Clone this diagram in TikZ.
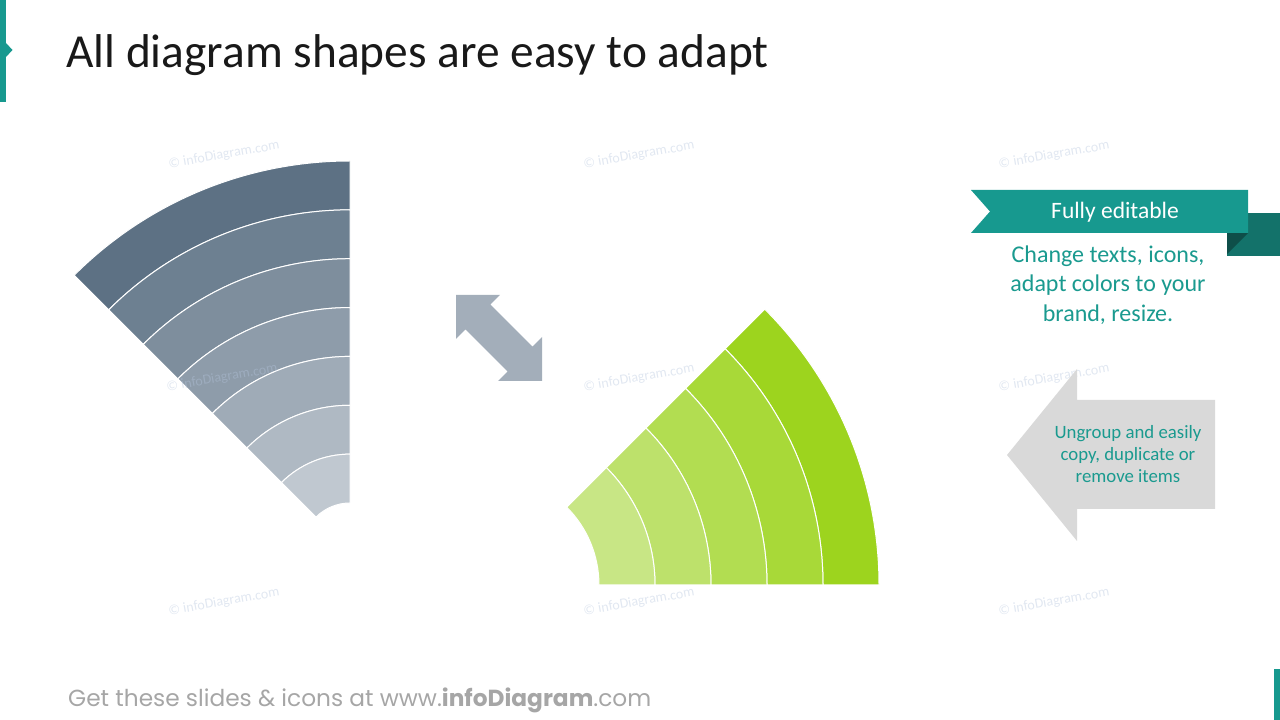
\documentclass[tikz,border=0pt]{standalone}
\usepackage{fontspec}
\setmainfont{Carlito}
\newfontfamily\footfont{Poppins}
\usetikzlibrary{calc}
\definecolor{tealA}{RGB}{23,153,143}
\definecolor{tealD}{RGB}{19,114,106}
\definecolor{tealX}{RGB}{14,78,73}
\definecolor{tealT}{RGB}{26,154,143}
\definecolor{fanA}{RGB}{93,113,132}
\definecolor{fanB}{RGB}{192,200,208}
\definecolor{grnA}{RGB}{157,212,30}
\definecolor{grnB}{RGB}{200,230,133}
\definecolor{dblarrow}{RGB}{163,174,186}
\definecolor{arrowgray}{RGB}{217,217,217}
\definecolor{footgray}{RGB}{166,166,166}
\definecolor{wmark}{RGB}{180,196,220}
\tikzset{
  band/.style={draw=white, line width=1pt},
  wm/.style={text=wmark, text opacity=0.4, rotate=10, font=\fontsize{14}{16}\selectfont, inner sep=0},
}
\begin{document}
\begin{tikzpicture}[x=1pt,y=1pt]
\useasboundingbox (0,0) rectangle (1280,720);
% side bars
\fill[tealA] (0,720) rectangle (6,618);
\fill[tealA] (6,677) -- (12.5,670) -- (6,663) -- cycle;
\fill[tealA] (1274,0) rectangle (1280,51);
% title
\node[anchor=base west, inner sep=0, font=\fontsize{47.4}{57}\selectfont, text=black!90] (title) at (66,652) {All diagram shapes are easy to adapt};
% left fan
\coordinate (lc) at (350,169);
\foreach \i in {0,...,6} {
  \pgfmathsetmacro\ro{390-\i*48.857}
  \pgfmathsetmacro\ri{390-(\i+1)*48.857}
  \pgfmathsetmacro\p{\i*100/6}
  \filldraw[band, fill=fanB!\p!fanA] (lc) ++(90:\ro) arc[start angle=90, end angle=135, radius=\ro]
     -- ($(lc)+(135:\ri)$) arc[start angle=135, end angle=90, radius=\ri] -- cycle;
}
% green fan
\coordinate (gc) at (489,135);
\foreach \i in {0,...,4} {
  \pgfmathsetmacro\ro{390-\i*56}
  \pgfmathsetmacro\ri{390-(\i+1)*56}
  \pgfmathsetmacro\p{\i*100/4}
  \filldraw[band, fill=grnB!\p!grnA] (gc) ++(0:\ro) arc[start angle=0, end angle=45, radius=\ro]
     -- ($(gc)+(45:\ri)$) arc[start angle=45, end angle=0, radius=\ri] -- cycle;
}
% double arrow
\fill[dblarrow] (456,425) -- (500,425) -- (490.4,415.4) -- (532.4,373.4) -- (542,383) -- (542,339)
  -- (498,339) -- (507.6,348.6) -- (465.6,390.6) -- (456,381) -- cycle;
% watermarks
\foreach \x/\y [count=\k] in {224/565, 639/565, 1054/565, 222/342, 639/342, 1054/342, 224/118, 639/118, 1054/118} {
  \node[wm] (wm\k) at (\x,\y) {© infoDiagram.com};
}
% ribbon
\fill[tealD] (1227,507) rectangle (1280,464);
\fill[tealX] (1227,487) -- (1248,487) -- (1227,466) -- cycle;
\fill[tealA] (971,530) -- (1248,530) -- (1248,487) -- (971,487) -- (990,508.5) -- cycle;
\node[text=white, font=\fontsize{23.5}{27}\selectfont, inner sep=0] (rib) at (1115,508) {Fully editable};
\node[text=tealT, align=center, font=\fontsize{24}{29.5}\selectfont, inner sep=0] (chg) at (1108,435)
  {Change texts, icons,\\adapt colors to your\\brand, resize.};
% gray arrow
\fill[arrowgray] (1007,265) -- (1077,351) -- (1077,320) -- (1215,320) -- (1215,211) -- (1077,211) -- (1077,179) -- cycle;
\node[text=tealT, align=center, font=\fontsize{18.8}{22}\selectfont, inner sep=0] (ung) at (1128,266)
  {Ungroup and easily\\copy, duplicate or\\remove items};
% footer
\node[anchor=base west, inner sep=0, text=footgray] (foot) at (68,13)
  {\resizebox{583pt}{!}{\footfont Get these slides \& icons at www.\textbf{infoDiagram}.com}};
\end{tikzpicture}
\end{document}
